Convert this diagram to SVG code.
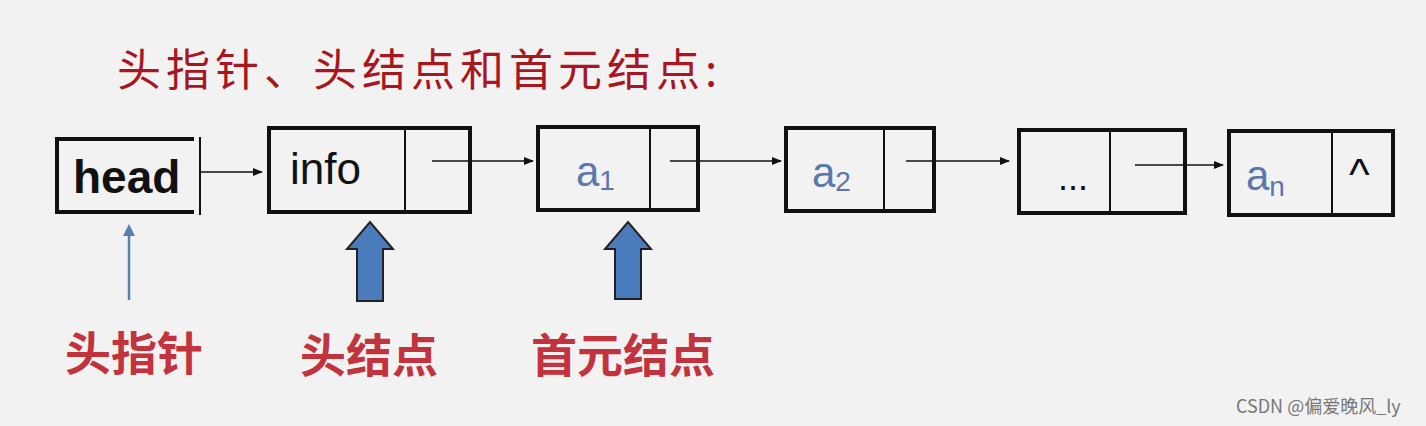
<svg xmlns="http://www.w3.org/2000/svg" width="1426" height="426" viewBox="0 0 1426 426">
<defs>
<marker id="ah" markerWidth="10" markerHeight="8" refX="9" refY="4" orient="auto" markerUnits="userSpaceOnUse"><path d="M0,0 L10,4 L0,8 Z" fill="#111"/></marker>
<style>
.box{fill:none;stroke:#111;stroke-width:4}
.div{stroke:#111;stroke-width:2}
.con{stroke:#111;stroke-width:1.6;fill:none;marker-end:url(#ah)}
.val{font-family:"Liberation Sans","Noto Sans",sans-serif;font-size:42px;fill:#5a78ad}
.sub{font-size:28px}
.lbl{font-family:"Noto Sans CJK SC",sans-serif;font-weight:bold;font-size:46px;fill:#c2333d;text-anchor:middle}
.blk{fill:#4a7bbd;stroke:#222;stroke-width:2}
</style>
</defs>
<rect width="1426" height="426" fill="#f2f2f2"/>
<text x="117" y="86" font-family="'Noto Sans CJK SC',sans-serif" font-size="44" letter-spacing="5" fill="#a9161f">头指针、头结点和首元结点:</text>
<g id="head">
<path d="M194,139 H57 V212 H194" class="box"/>
<line x1="200" y1="137" x2="200" y2="215" class="div"/>
<text x="73" y="193" font-family="'Liberation Sans',sans-serif" font-weight="bold" font-size="46" fill="#111">head</text>
</g>
<g id="info"><rect x="269" y="128" width="201" height="84" class="box"/><line x1="405" y1="128" x2="405" y2="212" class="div"/>
<text x="290" y="184" font-family="'Liberation Sans',sans-serif" font-size="44" fill="#111">info</text></g>
<g id="a1"><rect x="538" y="127" width="160" height="83" class="box"/><line x1="650" y1="127" x2="650" y2="210" class="div"/>
<text x="576" y="186" class="val">a<tspan class="sub" dy="4">1</tspan></text></g>
<g id="a2"><rect x="786" y="128" width="148" height="83" class="box"/><line x1="884" y1="126" x2="884" y2="211" class="div"/>
<text x="812" y="187" class="val">a<tspan class="sub" dy="4">2</tspan></text></g>
<g id="dots"><rect x="1019" y="130" width="166" height="83" class="box"/><line x1="1110" y1="130" x2="1110" y2="213" class="div"/>
<text x="1058" y="190" font-family="'Liberation Sans',sans-serif" font-size="36" fill="#111">...</text></g>
<g id="an"><rect x="1229" y="131" width="164" height="84" class="box"/><line x1="1332" y1="131" x2="1332" y2="215" class="div"/>
<text x="1246" y="190" class="val">a<tspan class="sub" dy="6">n</tspan></text>
<text x="1349" y="190" font-family="'Liberation Sans',sans-serif" font-size="44" fill="#111">^</text></g>
<g id="connectors">
<line x1="200" y1="172" x2="262" y2="172" class="con"/>
<line x1="432" y1="161" x2="533" y2="161" class="con"/>
<line x1="670" y1="161" x2="781" y2="161" class="con"/>
<line x1="906" y1="161" x2="1009" y2="161" class="con"/>
<line x1="1135" y1="165" x2="1223" y2="165" class="con"/>
</g>
<g id="pointers">
<line x1="129" y1="300" x2="129" y2="232" stroke="#5a7fb0" stroke-width="2.5"/>
<path d="M123,236 L129,224 L135,236 Z" fill="#5a7fb0"/>
<path d="M357,301 V249 H347 L370,222 L393,249 H383 V301 Z" class="blk"/>
<path d="M615,299 V249 H605 L628,222 L651,249 H641 V299 Z" class="blk"/>
</g>
<text x="134" y="370" class="lbl">头指针</text>
<text x="369" y="372" class="lbl">头结点</text>
<text x="623" y="372" class="lbl">首元结点</text>
<text x="1236" y="413" font-family="'Noto Sans CJK SC',sans-serif" font-size="18" fill="#777">CSDN @偏爱晚风_ly</text>
</svg>
